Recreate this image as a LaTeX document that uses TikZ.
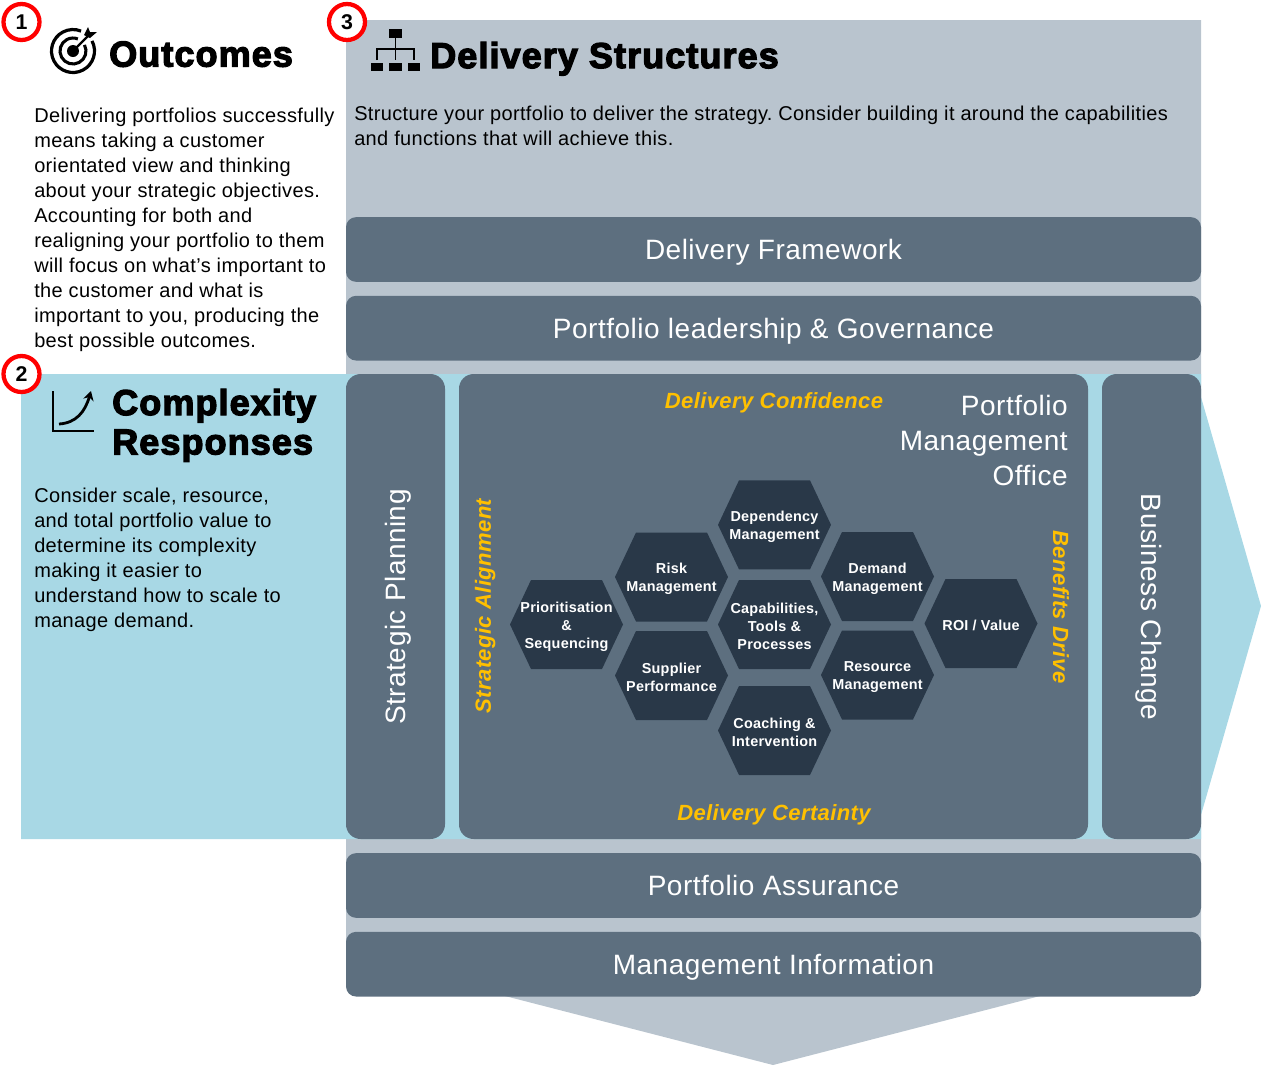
\documentclass[tikz,border=0pt]{standalone}
\usepackage{fontspec}
\setmainfont[LetterSpace=1.8]{Liberation Sans}
\newfontfamily\heavyfont[FakeBold=3.5,LetterSpace=3]{Liberation Sans Bold}
\usetikzlibrary{arrows.meta, calc, positioning}
\definecolor{backgrey}{HTML}{B9C4CE}
\definecolor{bandblue}{HTML}{A8D8E5}
\definecolor{slate}{HTML}{5D6F7F}
\definecolor{navy}{HTML}{293848}
\definecolor{amber}{HTML}{FFC000}
\makeatletter
\pgfdeclareshape{hexcell}{
	\inheritsavedanchors[from=rectangle]
	\inheritanchorborder[from=rectangle]
	\inheritanchor[from=rectangle]{center}
	\inheritanchor[from=rectangle]{north}
	\inheritanchor[from=rectangle]{south}
	\inheritanchor[from=rectangle]{east}
	\inheritanchor[from=rectangle]{west}
	\backgroundpath{
		\southwest \pgf@xa=\pgf@x \pgf@ya=\pgf@y
		\northeast \pgf@xb=\pgf@x \pgf@yb=\pgf@y
		\advance\pgf@ya by 1.5pt \advance\pgf@yb by 1.5pt
		\pgf@yc=0.5\pgf@ya \advance\pgf@yc by 0.5\pgf@yb
		\pgfpathmoveto{\pgfqpoint{\pgf@xa}{\pgf@yc}}
		\pgfpathlineto{\pgfqpoint{\dimexpr\pgf@xa+15.75pt}{\pgf@yb}}
		\pgfpathlineto{\pgfqpoint{\dimexpr\pgf@xb-15.75pt}{\pgf@yb}}
		\pgfpathlineto{\pgfqpoint{\pgf@xb}{\pgf@yc}}
		\pgfpathlineto{\pgfqpoint{\dimexpr\pgf@xb-15.75pt}{\pgf@ya}}
		\pgfpathlineto{\pgfqpoint{\dimexpr\pgf@xa+15.75pt}{\pgf@ya}}
		\pgfpathclose
	}
}
\makeatother
\tikzstyle{bar} = [rectangle, rounded corners=7.5pt, fill=slate, text=white, minimum width=641.25pt, minimum height=48.5pt, inner sep=0pt, outer sep=0pt, text depth=0pt, font=\fontsize{21}{25}\selectfont]
\tikzstyle{column} = [rectangle, rounded corners=11pt, fill=slate, minimum height=348.75pt, inner sep=0pt, outer sep=0pt]
\tikzstyle{coltext} = [inner sep=0pt, text=white, text depth=0pt, font=\fontsize{21}{25}\selectfont]
\tikzstyle{hexa} = [hexcell, fill=navy, text=white, minimum width=84.75pt, minimum height=66.75pt, inner sep=0pt, outer sep=0pt, align=center, font=\fontsize{10.8}{13.4}\selectfont\bfseries]
\tikzstyle{badge} = [circle, draw=red, line width=3.2pt, fill=white, minimum size=27pt, inner sep=0pt, font=\fontsize{16}{18}\selectfont\bfseries]
\tikzstyle{heading} = [anchor=west, inner sep=0pt, text depth=0pt, align=left, font=\fontsize{27}{30}\heavyfont]
\tikzstyle{body} = [anchor=north west, inner sep=0pt, align=left, font=\fontsize{15}{18.75}\selectfont\frenchspacing]
\tikzstyle{amberlabel} = [text=amber, inner sep=0pt, text depth=0pt, font=\fontsize{16.5}{20}\selectfont\bfseries\itshape]
\begin{document}
\begin{tikzpicture}[x=0.75pt, y=-0.75pt]
		\useasboundingbox (0,0) rectangle (1261,1065);
		% backgrounds
		\fill [backgrey] (346,20) -- (1201,20) -- (1201,985) -- (1030,985) -- (1040,996) -- (773,1065) -- (505,996) -- (515,985) -- (346,985) -- cycle;
		\fill [bandblue] (21,374) -- (1201,374) -- (1201,397) -- (1261,606) -- (1201,815) -- (1201,839) -- (21,839) -- cycle;
		% bars and columns
		\node (Framework) [bar] at (773.5,249.5) {Delivery Framework};
		\node (Leadership) [bar, below = 10.5pt of Framework] {Portfolio leadership \& Governance};
		\node (Assurance) [bar] at (773.5,885.5) {Portfolio Assurance};
		\node (Information) [bar, below = 10.5pt of Assurance] {Management Information};
		\node (Strategic) [column, minimum width=74.25pt] at (395.5,606.5) {};
		\node (Office) [column, minimum width=471.75pt, right = 10.5pt of Strategic] {};
		\node (Change) [column, minimum width=74.25pt, right = 10.5pt of Office] {};
		\node (StrategicText) [coltext, rotate=90] at (395.5,607) {Strategic Planning};
		\node (ChangeText) [coltext, rotate=-90] at (1152,607) {Business Change};
		\node (OfficeText) [anchor=north east, inner sep=0pt, align=right, text=white, font=\fontsize{21}{26.25}\selectfont] at (1068,395) {Portfolio\\Management\\Office};
		% labels round the hexagons
		\node (Confidence) [amberlabel] at (774,401) {Delivery Confidence};
		\node (Certainty) [amberlabel] at (774,813) {Delivery Certainty};
		\node (Alignment) [amberlabel, rotate=90] at (483,606) {Strategic Alignment};
		\node (Benefits) [amberlabel, rotate=-90] at (1061,607) {Benefits Drive};
		% hexagons
		\node (Capabilities) [hexa] at (774.5,626.5) {Capabilities,\\Tools \&\\Processes};
		\node (Dependency) [hexa, above = 8pt of Capabilities] {Dependency\\Management};
		\node (Coaching) [hexa, below = 12.75pt of Capabilities] {Coaching \&\\Intervention};
		\node (Prioritisation) [hexa] at (566.5,626.5) {Prioritisation\\\&\\Sequencing};
		\node (Risk) [hexa] at (671.5,579) {Risk\\Management};
		\node (Supplier) [hexa] at (671.5,677.5) {Supplier\\Performance};
		\node (Demand) [hexa] at (877.5,578.5) {Demand\\Management};
		\node (Resource) [hexa] at (877.5,677) {Resource\\Management};
		\node (Value) [hexa] at (981,625.5) {ROI / Value};
		% headings
		\node (Outcomes) [heading] at (109,54) {Outcomes};
		\node (Structures) [heading] at (430,55) {Delivery Structures};
		\node (Complexity) [heading] at (112,402) {Complexity};
		\node (Responses) [heading] at (112,442) {Responses};
		% body text
		\node (OutcomesText) [body] at (34,108) {Delivering portfolios successfully\\means taking a customer\\orientated view and thinking\\about your strategic objectives.\\Accounting for both and\\realigning your portfolio to them\\will focus on what’s important to\\the customer and what is\\important to you, producing the\\best possible outcomes.};
		\node (StructuresText) [body] at (354,106) {Structure your portfolio to deliver the strategy. Consider building it around the capabilities\\and functions that will achieve this.};
		\node (ComplexityText) [body] at (34,488) {Consider scale, resource,\\and total portfolio value to\\determine its complexity\\making it easier to\\understand how to scale to\\manage demand.};
		% badges
		\node (BadgeOne) [badge] at (21.5,22) {1};
		\node (BadgeTwo) [badge] at (21.5,374) {2};
		\node (BadgeThree) [badge] at (347,22) {3};
		% target icon
		\draw [line width=2.4pt] (73,51) ++(-28:21.5) arc (-28:292:21.5);
		\draw [line width=2.3pt] (73,51) ++(-28:13) arc (-28:292:13);
		\fill (73,51) circle (6);
		\draw [line width=1.6pt] (73,51) -- (90,34);
		\fill (84,35) -- (88,27) -- (90,32) -- (97,32) -- (90,38) -- cycle;
		% org chart icon
		\fill (389,29) rectangle (402,38);
		\fill (371,63) rectangle (383,71);
		\fill (389,63) rectangle (402,71);
		\fill (408,63) rectangle (420,71);
		\draw [line width=1.2pt] (395.5,38) -- (395.5,60);
		\draw [line width=1.2pt] (377,60) -- (377,49) -- (414,49) -- (414,60);
		% growth icon
		\draw [line width=2pt] (53,391) -- (53,431) -- (94,431);
		\draw [line width=2.1pt, -{Stealth[length=7pt,width=8pt]}] (59,424) .. controls (76,423) and (85,412) .. (91,391);
\end{tikzpicture}
\end{document}
